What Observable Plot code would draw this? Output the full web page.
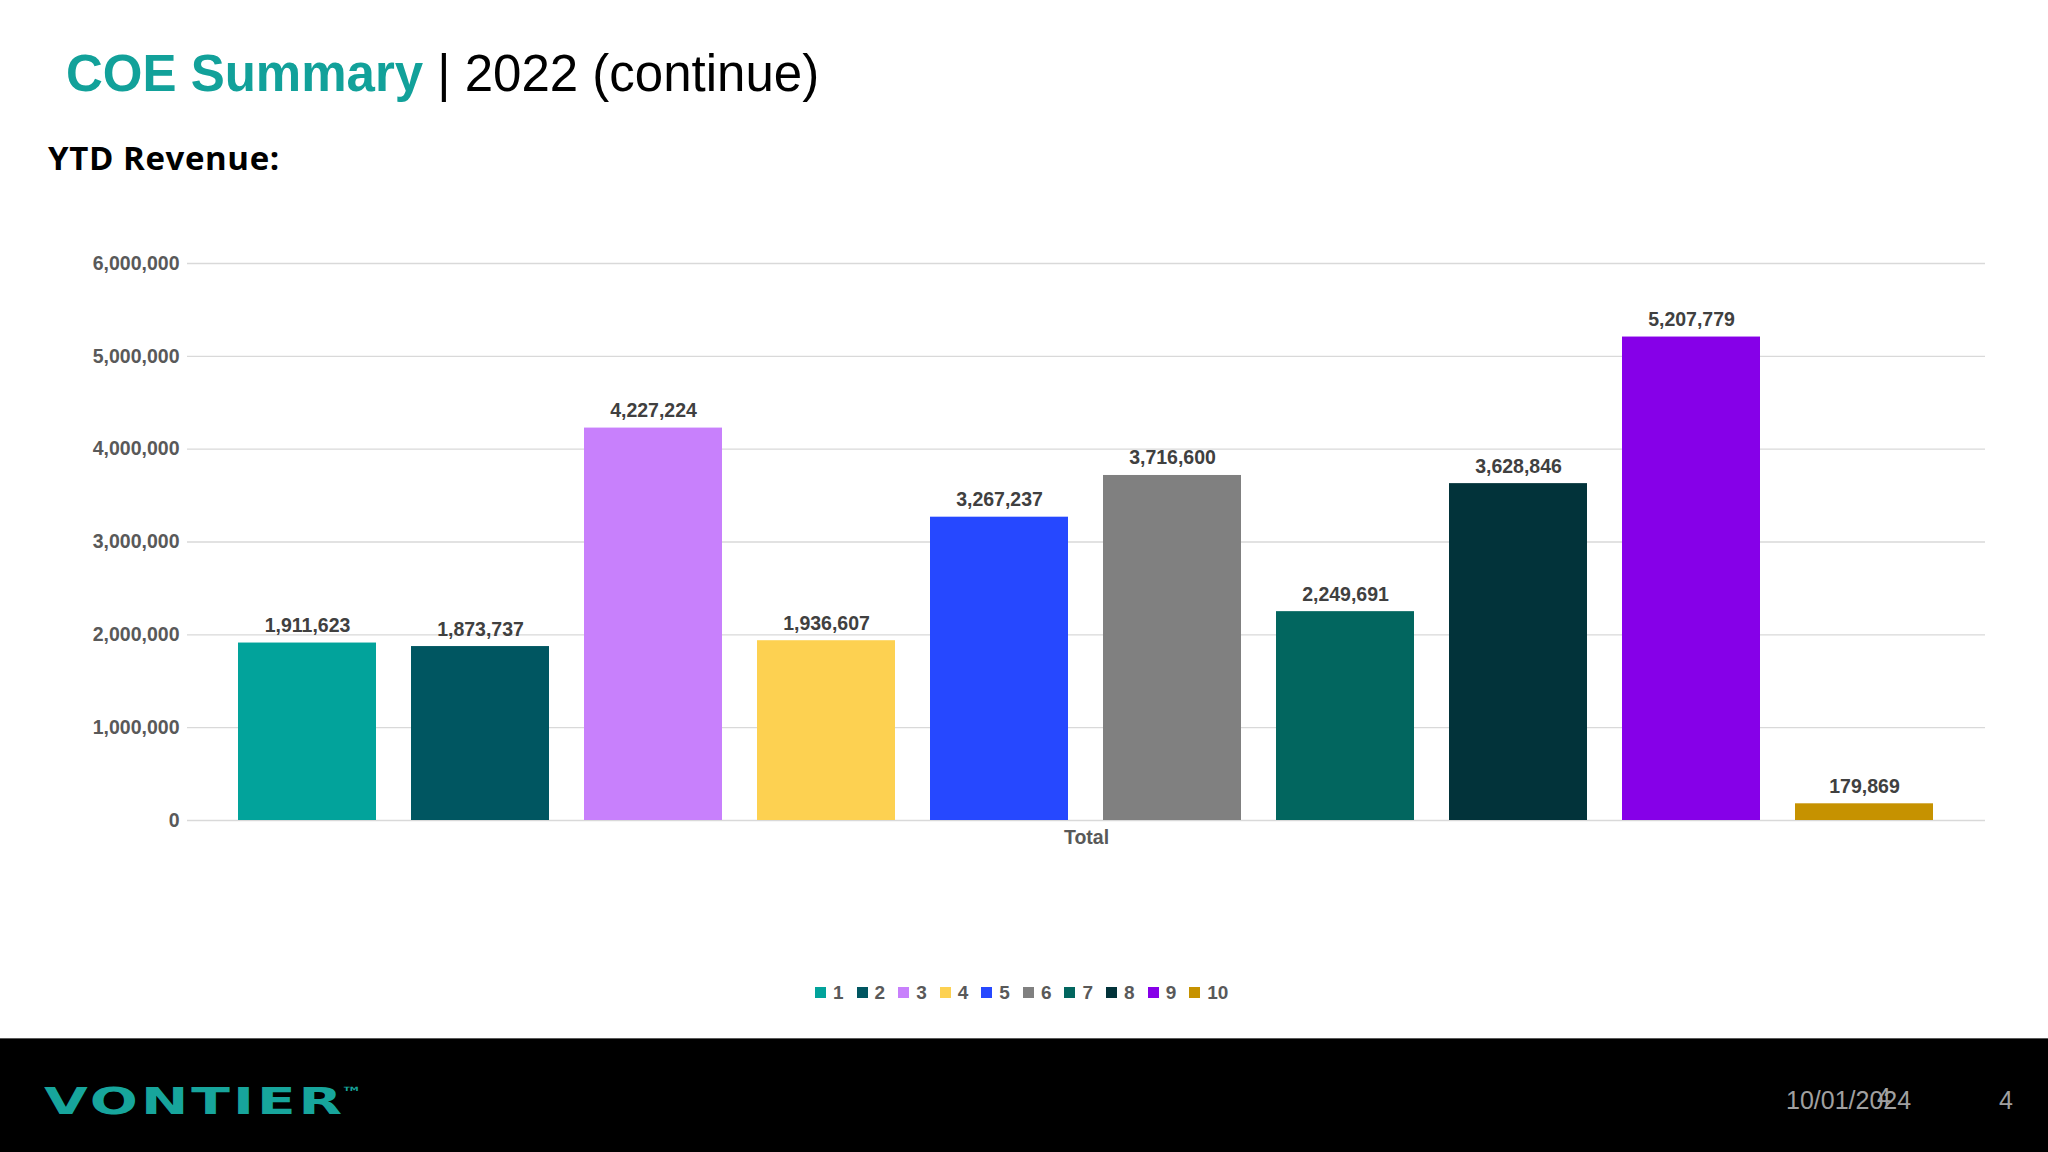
<!DOCTYPE html>
<html>
<head>
<meta charset="utf-8">
<script src="https://cdn.jsdelivr.net/npm/d3@7"></script>
<script src="https://cdn.jsdelivr.net/npm/@observablehq/plot@0.6"></script>
<style>
  html, body { margin: 0; padding: 0; background: #fff; }
  body { width: 2048px; height: 1152px; position: relative; overflow: hidden; font-family: "Liberation Sans", Arial, sans-serif; }
  #title { position: absolute; left: 66px; top: 48px; font-size: 51px; line-height: 1; color: #000; white-space: nowrap; }
  #title .hl { color: #12a19a; font-weight: bold; }
  #subtitle { position: absolute; left: 48px; top: 141px; font-family: "Open Sans", sans-serif; font-weight: 700; font-size: 33px; letter-spacing: 0.6px; line-height: 1; color: #000; white-space: nowrap; }
  #chart { position: absolute; left: 0; top: 230px; }
  #legend { position: absolute; left: 815px; top: 976px; }
  .coe-legend-swatches, .coe-legend-swatches-wrap { font-family: "Liberation Sans", Arial, sans-serif !important; font-size: 19px !important; font-weight: bold !important; color: #595959 !important; margin: 0 !important; min-height: 33px; }
  .coe-legend-swatch { margin-right: 13px !important; }
  .coe-legend-swatch > svg { margin-right: 7px !important; }
  #footer { position: absolute; left: 0; top: 1038px; width: 2048px; height: 114px; background: #000; border-top: 1px solid #5a5a5a; box-sizing: border-box; }
  #logo { position: absolute; left: 44px; top: 1082px; font-family: "DejaVu Sans", sans-serif; font-weight: bold; font-size: 38px; line-height: 1; color: #17a59c; transform-origin: 0 0; transform: scaleX(1.49); letter-spacing: 2px; white-space: nowrap; }
  #logo sup { font-size: 6px; vertical-align: top; letter-spacing: 0; position: relative; top: 4px; margin-left: -1px; }
  .foot { position: absolute; font-family: "Liberation Sans", Arial, sans-serif; font-size: 25px; line-height: 1; color: #a0a0a0; white-space: nowrap; }
</style>
</head>
<body>
<div id="title"><span class="hl">COE Summary</span> | 2022 (continue)</div>
<div id="subtitle">YTD Revenue:</div>
<div id="chart"></div>
<div id="legend"></div>
<div id="footer"></div>
<div id="logo">VONTIER<sup>TM</sup></div>
<div class="foot" style="left:1786px; top:1088px;">10/01/2024</div>
<div class="foot" style="left:1877px; top:1085px;">4</div>
<div class="foot" style="left:1999px; top:1088px;">4</div>
<script>
// ---- data ----
const categories = ["1", "2", "3", "4", "5", "6", "7", "8", "9", "10"];
const values = [1911623, 1873737, 4227224, 1936607, 3267237, 3716600, 2249691, 3628846, 5207779, 179869];
const colors = ["#02a39b", "#005661", "#c880fc", "#fdd151", "#2648ff", "#808080", "#02665f", "#02333a", "#8600e8", "#c69200"];
const groupLabel = "Total";
const yTicks = [0, 1000000, 2000000, 3000000, 4000000, 5000000, 6000000];

const data = categories.map((c, i) => ({cat: c, value: values[i], group: groupLabel}));
const fmt = d3.format(",");

const chart = Plot.plot({
  width: 2048,
  height: 640,
  marginLeft: 187,
  marginRight: 63,
  marginTop: 33,
  marginBottom: 50,
  style: {
    fontFamily: "'Liberation Sans', Arial, sans-serif",
    fontSize: "19.5px",
    fontWeight: "bold",
    color: "#595959",
    background: "transparent",
    overflow: "visible"
  },
  fx: {domain: [groupLabel], padding: 0, label: null, axis: "bottom", tickSize: 0, tickPadding: 10},
  x: {domain: categories, paddingInner: 0.2023, paddingOuter: 0.289, axis: null},
  y: {domain: [0, 6000000], ticks: 6, tickFormat: fmt, label: null, tickSize: 0, tickPadding: 8},
  color: {domain: categories, range: colors},
  marks: [
    Plot.ruleY(yTicks, {stroke: "#d9d9d9", strokeWidth: 1.3}),
    Plot.barY(data, {fx: "group", x: "cat", y: "value", fill: "cat"}),
    Plot.text(data, {fx: "group", x: "cat", y: "value", text: d => fmt(d.value), dy: -11, lineAnchor: "bottom", fill: "#404040", fontSize: 19.5, fontWeight: "bold"})
  ]
});
document.getElementById("chart").appendChild(chart);

const legend = Plot.legend({
  color: {domain: categories, range: colors},
  className: "coe-legend",
  swatchSize: 11
});
document.getElementById("legend").appendChild(legend);
</script>
</body>
</html>
